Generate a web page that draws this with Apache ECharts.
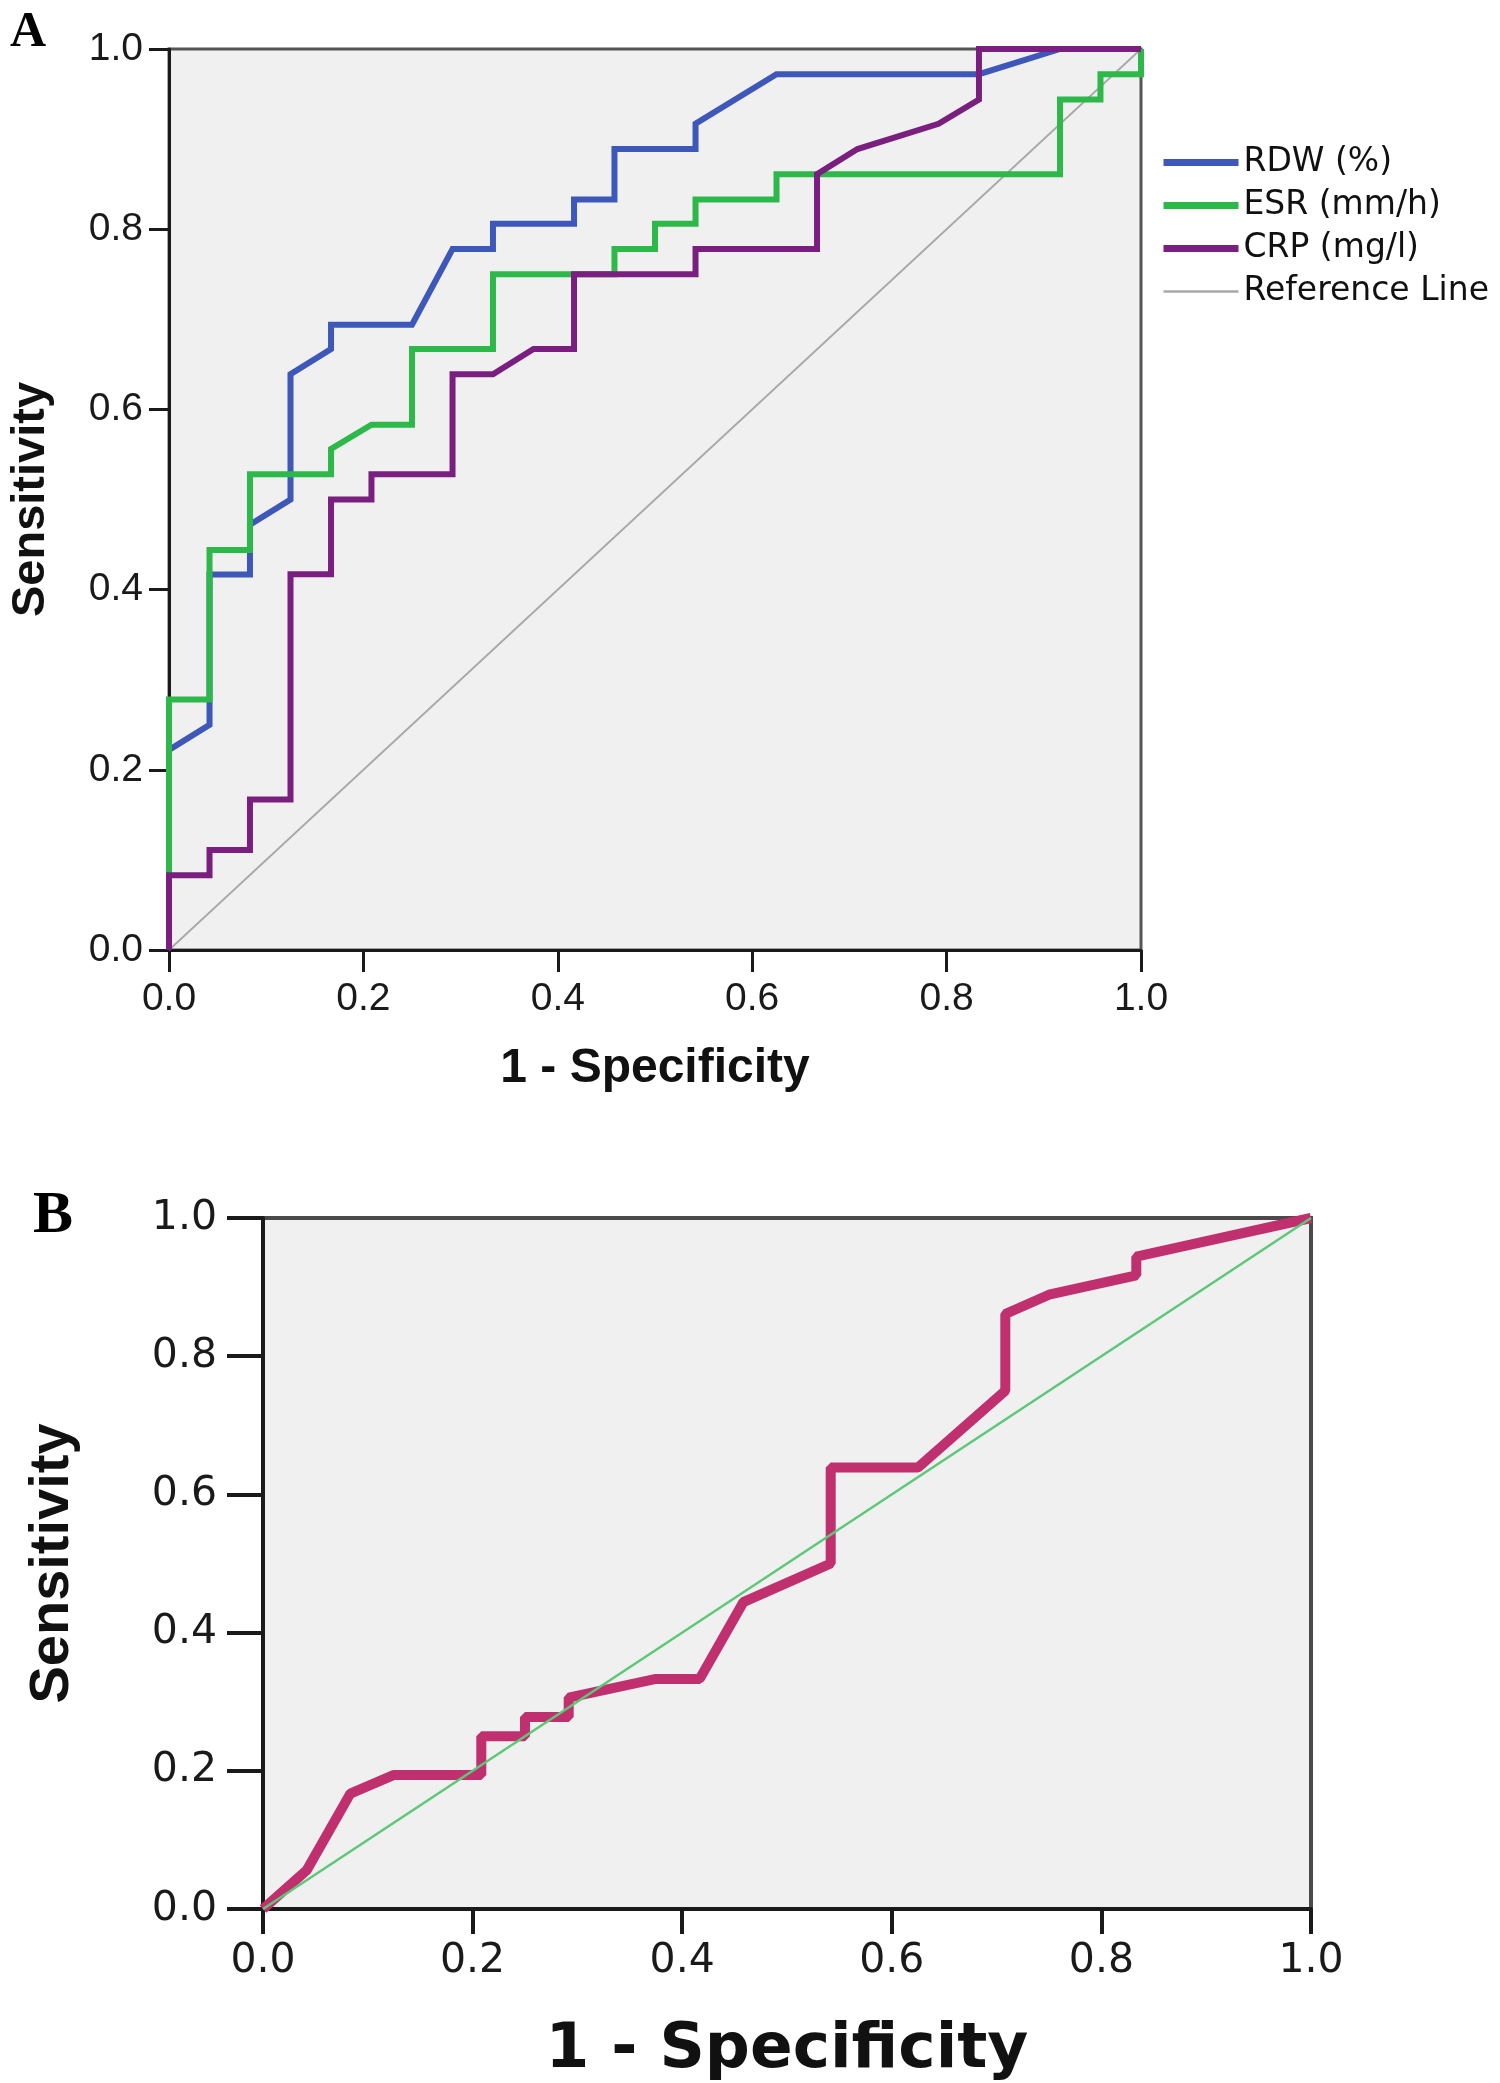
<!DOCTYPE html>
<html>
<head>
<meta charset="utf-8">
<script src="https://cdn.jsdelivr.net/npm/echarts@6/dist/echarts.min.js"></script>
<style>
  html, body { margin: 0; padding: 0; background: #ffffff; }
  #chart { width: 1500px; height: 2083px; }
</style>
</head>
<body>
<div id="chart"></div>
<script>
// ---- Data ----
const tickLabels = ['0.0', '0.2', '0.4', '0.6', '0.8', '1.0'];

// Panel A
const rdwFpr = [0, 0, 0.0417, 0.0417, 0.0833, 0.0833, 0.125, 0.125, 0.1667, 0.1667, 0.25, 0.2917, 0.3333, 0.3333, 0.4167, 0.4167, 0.4583, 0.4583, 0.5417, 0.5417, 0.625, 0.8333, 0.9167, 1];
const rdwTpr = [0, 0.222, 0.25, 0.4167, 0.4167, 0.472, 0.5, 0.639, 0.667, 0.694, 0.694, 0.778, 0.778, 0.806, 0.806, 0.833, 0.833, 0.889, 0.889, 0.917, 0.972, 0.972, 1, 1];

const esrFpr = [0, 0, 0.0417, 0.0417, 0.0833, 0.0833, 0.1667, 0.1667, 0.2083, 0.25, 0.25, 0.3333, 0.3333, 0.4583, 0.4583, 0.5, 0.5, 0.5417, 0.5417, 0.625, 0.625, 0.9167, 0.9167, 0.9583, 0.9583, 1, 1];
const esrTpr = [0, 0.278, 0.278, 0.444, 0.444, 0.528, 0.528, 0.556, 0.583, 0.583, 0.667, 0.667, 0.75, 0.75, 0.778, 0.778, 0.806, 0.806, 0.833, 0.833, 0.861, 0.861, 0.944, 0.944, 0.972, 0.972, 1];

const crpFpr = [0, 0, 0.0417, 0.0417, 0.0833, 0.0833, 0.125, 0.125, 0.1667, 0.1667, 0.2083, 0.2083, 0.2917, 0.2917, 0.3333, 0.375, 0.4167, 0.4167, 0.5417, 0.5417, 0.6667, 0.6667, 0.7083, 0.7917, 0.8333, 0.8333, 1];
const crpTpr = [0, 0.083, 0.083, 0.111, 0.111, 0.167, 0.167, 0.417, 0.417, 0.5, 0.5, 0.528, 0.528, 0.639, 0.639, 0.667, 0.667, 0.75, 0.75, 0.778, 0.778, 0.861, 0.889, 0.917, 0.944, 1, 1];

const refFpr = [0, 1];
const refTpr = [0, 1];

// Panel B
const bFpr = [0, 0.0417, 0.0833, 0.125, 0.2083, 0.2083, 0.25, 0.25, 0.2917, 0.2917, 0.375, 0.4167, 0.4583, 0.5417, 0.5417, 0.625, 0.7083, 0.7083, 0.75, 0.8333, 0.8333, 1];
const bTpr = [0, 0.056, 0.167, 0.194, 0.194, 0.25, 0.25, 0.278, 0.278, 0.306, 0.333, 0.333, 0.444, 0.5, 0.639, 0.639, 0.75, 0.861, 0.889, 0.917, 0.944, 1];

const legendNames = ['RDW (%)', 'ESR (mm/h)', 'CRP (mg/l)', 'Reference Line'];

function pairs(xs, ys) { return xs.map((x, i) => [x, ys[i]]); }
function fmt(v) { const i = Math.round(v / 0.2); return tickLabels[i] !== undefined ? tickLabels[i] : ''; }

const chart = echarts.init(document.getElementById('chart'), null, { renderer: 'canvas' });

function axisCommon(o) {
  return Object.assign({
    type: 'value', min: 0, max: 1, interval: 0.2,
    splitLine: { show: false },
    axisLine: { show: true, onZero: false, lineStyle: { color: '#1a1a1a', width: 3 } },
    axisTick: { show: true, inside: false, length: 20, lineStyle: { color: '#1a1a1a', width: 3 } },
    axisLabel: { formatter: fmt, color: '#1a1a1a', fontFamily: 'Liberation Sans', fontSize: 39, margin: 26 },
    nameLocation: 'middle',
    nameTextStyle: { fontFamily: 'Liberation Sans', fontWeight: 'bold', color: '#111', fontSize: 48 }
  }, o);
}

const lineW = 6;
const option = {
  animation: false,
  backgroundColor: '#ffffff',
  title: [
    { text: 'A', left: 10, top: 8, padding: 0,
      textStyle: { fontFamily: 'Liberation Serif', fontWeight: 'bold', fontSize: 50, color: '#000' } },
    { text: 'B', left: 33, top: 1186, padding: 0,
      textStyle: { fontFamily: 'Liberation Serif', fontWeight: 'bold', fontSize: 60, color: '#000' } }
  ],
  legend: {
    orient: 'vertical', left: 1155, top: 141,
    itemWidth: 75, itemHeight: 14, itemGap: 10,
    itemStyle: { opacity: 0 },
    lineStyle: { width: 7 },
    textStyle: { fontFamily: 'DejaVu Sans', fontSize: 33, lineHeight: 33, color: '#111' },
    data: [
      { name: legendNames[0] },
      { name: legendNames[1] },
      { name: legendNames[2] },
      { name: legendNames[3], lineStyle: { width: 2.5 } }
    ]
  },
  grid: [
    { left: 165, top: 49, width: 976, height: 901, show: true, backgroundColor: '#f0f0f0', borderColor: '#555', borderWidth: 3, containLabel: false },
    { left: 263, top: 1218, width: 1048, height: 693, show: true, backgroundColor: '#f0f0f0', borderColor: '#4a4a4a', borderWidth: 4, containLabel: false }
  ],
  xAxis: [
    axisCommon({ gridIndex: 0, name: '1 - Specificity', nameGap: 95,
      axisTick: { show: true, inside: false, length: 22, lineStyle: { color: '#1a1a1a', width: 3 } },
      axisLabel: { formatter: fmt, color: '#1a1a1a', fontFamily: 'Liberation Sans', fontSize: 39, margin: 30 } }),
    axisCommon({ gridIndex: 1, name: '1 - Specificity', nameGap: 110,
      axisLine: { show: true, onZero: false, lineStyle: { color: '#1a1a1a', width: 4 } },
      axisTick: { show: true, inside: false, length: 25, lineStyle: { color: '#1a1a1a', width: 4 } },
      axisLabel: { formatter: fmt, color: '#1a1a1a', fontFamily: 'DejaVu Sans', fontSize: 41, margin: 32 },
      nameTextStyle: { fontFamily: 'DejaVu Sans', fontWeight: 'bold', color: '#111', fontSize: 63 } })
  ],
  yAxis: [
    axisCommon({ gridIndex: 0, name: 'Sensitivity', nameGap: 114,
      nameTextStyle: { fontFamily: 'Liberation Sans', fontWeight: 'bold', color: '#111', fontSize: 47 } }),
    axisCommon({ gridIndex: 1, name: 'Sensitivity', nameGap: 182,
      axisLine: { show: true, onZero: false, lineStyle: { color: '#1a1a1a', width: 4 } },
      axisTick: { show: true, inside: false, length: 36, lineStyle: { color: '#1a1a1a', width: 4 } },
      axisLabel: { formatter: fmt, color: '#1a1a1a', fontFamily: 'DejaVu Sans', fontSize: 41, margin: 46 },
      nameTextStyle: { fontFamily: 'Liberation Sans', fontWeight: 'bold', color: '#111', fontSize: 56 } })
  ],
  series: [
    { name: 'Reference Line', type: 'line', xAxisIndex: 0, yAxisIndex: 0, data: pairs(refFpr, refTpr),
      symbol: 'none', lineStyle: { color: '#a8a8a8', width: 1.8 }, itemStyle: { color: '#a8a8a8' }, z: 2 },
    { name: 'RDW (%)', type: 'line', xAxisIndex: 0, yAxisIndex: 0, data: pairs(rdwFpr, rdwTpr),
      symbol: 'none', lineStyle: { color: '#3d58b8', width: lineW, join: 'miter' }, itemStyle: { color: '#3d58b8' }, z: 3 },
    { name: 'ESR (mm/h)', type: 'line', xAxisIndex: 0, yAxisIndex: 0, data: pairs(esrFpr, esrTpr),
      symbol: 'none', lineStyle: { color: '#2db84a', width: lineW, join: 'miter' }, itemStyle: { color: '#2db84a' }, z: 4 },
    { name: 'CRP (mg/l)', type: 'line', xAxisIndex: 0, yAxisIndex: 0, data: pairs(crpFpr, crpTpr),
      symbol: 'none', lineStyle: { color: '#7a1f80', width: lineW, join: 'miter' }, itemStyle: { color: '#7a1f80' }, z: 5 },
    { name: 'B curve', type: 'line', xAxisIndex: 1, yAxisIndex: 1, data: pairs(bFpr, bTpr),
      symbol: 'none', lineStyle: { color: '#c0306e', width: 10 }, itemStyle: { color: '#c0306e' }, z: 3 },
    { name: 'B reference', type: 'line', xAxisIndex: 1, yAxisIndex: 1, data: pairs(refFpr, refTpr),
      symbol: 'none', lineStyle: { color: '#5cc878', width: 2.5 }, itemStyle: { color: '#5cc878' }, z: 4 }
  ]
};
chart.setOption(option);
</script>
</body>
</html>
